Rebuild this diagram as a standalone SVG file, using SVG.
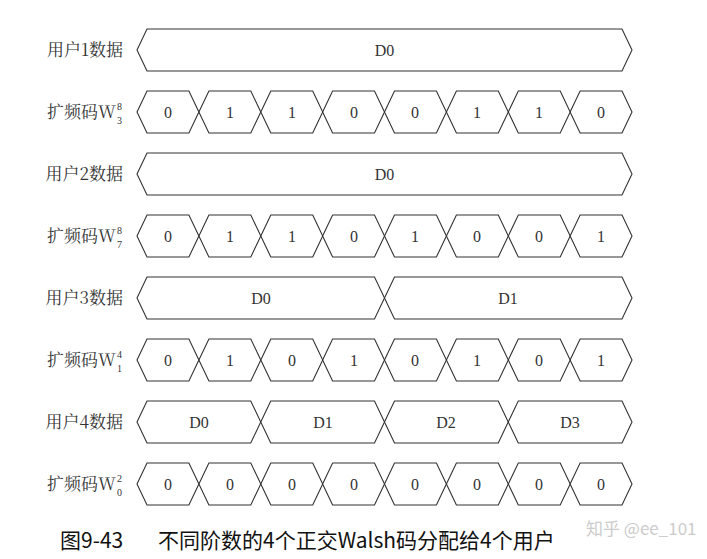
<svg xmlns="http://www.w3.org/2000/svg" width="707" height="559" viewBox="0 0 707 559">
<style>
.h{fill:none;stroke:#333;stroke-width:1.1}
.t{font-family:"Liberation Serif","Noto Sans CJK SC",serif;font-size:16px;fill:#333;text-anchor:middle}
.l{font-family:"Noto Serif CJK SC","Noto Sans CJK SC",serif;font-size:17px;fill:#333;text-anchor:end}
.s{font-family:"Liberation Serif",serif;font-size:10px;fill:#333}
</style>
<rect width="707" height="559" fill="#fff"/>
<g id="labels">
<text class="l" x="123" y="56">用户1数据</text>
<text class="l" x="123" y="180">用户2数据</text>
<text class="l" x="123" y="304">用户3数据</text>
<text class="l" x="123" y="428">用户4数据</text>
<text class="l" x="116" y="118">扩频码W</text><text class="s" x="117" y="110">8</text><text class="s" x="117" y="124">3</text>
<text class="l" x="116" y="242">扩频码W</text><text class="s" x="117" y="234">8</text><text class="s" x="117" y="248">7</text>
<text class="l" x="116" y="366">扩频码W</text><text class="s" x="117" y="358">4</text><text class="s" x="117" y="372">1</text>
<text class="l" x="116" y="490">扩频码W</text><text class="s" x="117" y="482">2</text><text class="s" x="117" y="496">0</text>
</g>
<g id="row1"><path class="h" d="M137,50 L147,29 L622,29 L632,50 L622,71 L147,71 Z"/><text class="t" x="384.5" y="56">D0</text></g>
<g id="row3"><path class="h" d="M137,174 L147,153 L622,153 L632,174 L622,195 L147,195 Z"/><text class="t" x="384.5" y="180">D0</text></g>
<g id="row5">
<path class="h" d="M137,298 L147,277 L374.5,277 L384.5,298 L374.5,319 L147,319 Z"/>
<path class="h" d="M384.5,298 L394.5,277 L622,277 L632,298 L622,319 L394.5,319 Z"/>
<text class="t" x="261" y="304">D0</text><text class="t" x="508" y="304">D1</text></g>
<g id="row7">
<path class="h" d="M137,422 L147,401 L250.75,401 L260.75,422 L250.75,443 L147,443 Z"/>
<path class="h" d="M260.75,422 L270.75,401 L374.5,401 L384.5,422 L374.5,443 L270.75,443 Z"/>
<path class="h" d="M384.5,422 L394.5,401 L498.25,401 L508.25,422 L498.25,443 L394.5,443 Z"/>
<path class="h" d="M508.25,422 L518.25,401 L622,401 L632,422 L622,443 L518.25,443 Z"/>
<text class="t" x="199" y="428">D0</text><text class="t" x="323" y="428">D1</text><text class="t" x="446" y="428">D2</text><text class="t" x="570" y="428">D3</text></g>
<defs>
<path id="hx" class="h" d="M0,0 L10,-21 L51.9,-21 L61.9,0 L51.9,21 L10,21 Z"/>
<g id="bits"><use href="#hx" x="137"/><use href="#hx" x="198.9"/><use href="#hx" x="260.8"/><use href="#hx" x="322.6"/><use href="#hx" x="384.5"/><use href="#hx" x="446.4"/><use href="#hx" x="508.3"/><use href="#hx" x="570.1"/></g>
</defs>
<g id="row2"><use href="#bits" y="112"/>
<text class="t" y="118"><tspan x="168">0</tspan><tspan x="230">1</tspan><tspan x="292">1</tspan><tspan x="354">0</tspan><tspan x="415">0</tspan><tspan x="477">1</tspan><tspan x="539">1</tspan><tspan x="601">0</tspan></text></g>
<g id="row4"><use href="#bits" y="236"/>
<text class="t" y="242"><tspan x="168">0</tspan><tspan x="230">1</tspan><tspan x="292">1</tspan><tspan x="354">0</tspan><tspan x="415">1</tspan><tspan x="477">0</tspan><tspan x="539">0</tspan><tspan x="601">1</tspan></text></g>
<g id="row6"><use href="#bits" y="360"/>
<text class="t" y="366"><tspan x="168">0</tspan><tspan x="230">1</tspan><tspan x="292">0</tspan><tspan x="354">1</tspan><tspan x="415">0</tspan><tspan x="477">1</tspan><tspan x="539">0</tspan><tspan x="601">1</tspan></text></g>
<g id="row8"><use href="#bits" y="484"/>
<text class="t" y="490"><tspan x="168">0</tspan><tspan x="230">0</tspan><tspan x="292">0</tspan><tspan x="354">0</tspan><tspan x="415">0</tspan><tspan x="477">0</tspan><tspan x="539">0</tspan><tspan x="601">0</tspan></text></g>
<g id="connectors"/>
<text y="548" style="font-family:'Noto Sans CJK SC',sans-serif;font-size:21px;fill:#111"><tspan x="60">图9-43</tspan><tspan x="158">不同阶数的4个正交Walsh码分配给4个用户</tspan></text>
<text x="586" y="535" style="font-family:'Noto Sans CJK SC',sans-serif;font-size:17px;fill:#ccc">知乎 @ee_101</text>
</svg>
